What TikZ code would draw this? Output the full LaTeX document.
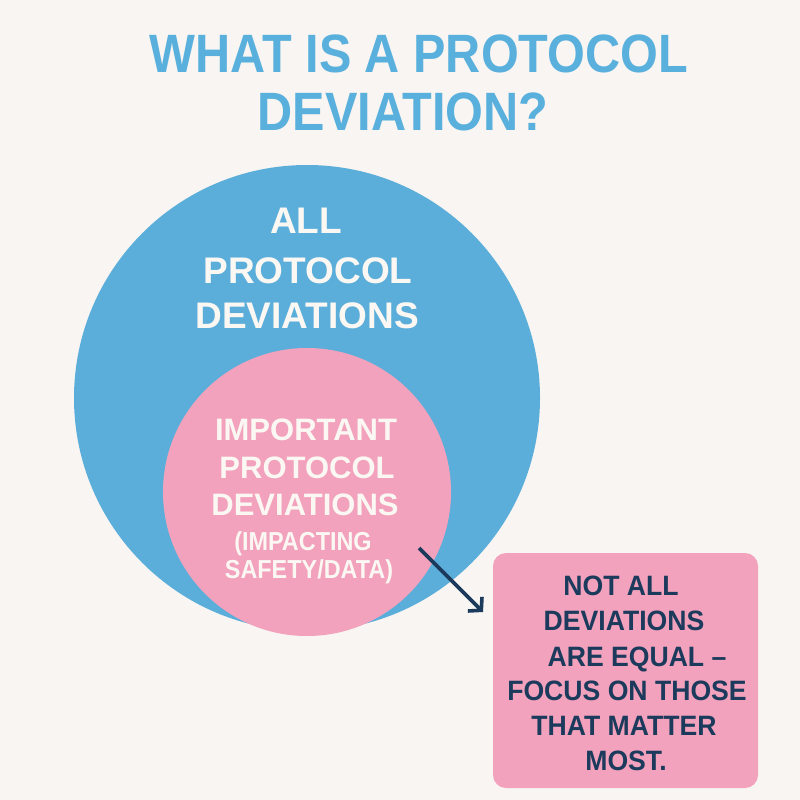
\documentclass[tikz,border=0pt]{standalone}
\usepackage{fontspec}
\setmainfont{Liberation Sans}
\newfontfamily\fnarrow{Liberation Sans}[FakeStretch=0.9]
\newfontfamily\fmid{Liberation Sans}[FakeStretch=0.95]
\newfontfamily\fnorm{Liberation Sans}
\usetikzlibrary{arrows.meta}
\definecolor{bgcol}{HTML}{F8F5F2}
\definecolor{bluecol}{HTML}{5CAEDA}
\definecolor{pinkcol}{HTML}{F2A2BC}
\definecolor{titlecol}{HTML}{5AB0DC}
\definecolor{navy}{HTML}{1B3A5C}
\definecolor{whitetxt}{HTML}{FBF8F4}
\tikzset{
  titletxt/.style={anchor=base, text=titlecol, inner sep=0pt, font=\fnarrow\bfseries\fontsize{54}{60}\selectfont},
  bigtxt/.style={anchor=base, text=whitetxt, inner sep=0pt, font=\fnorm\bfseries\fontsize{37}{42}\selectfont},
  midtxt/.style={anchor=base, text=whitetxt, inner sep=0pt, font=\fnorm\bfseries\fontsize{31}{36}\selectfont},
  smalltxt/.style={anchor=base, text=whitetxt, inner sep=0pt, font=\fnarrow\bfseries\fontsize{26}{30}\selectfont},
  boxtxt/.style={anchor=base, text=navy, inner sep=0pt, font=\fmid\bfseries\fontsize{28}{32}\selectfont},
  pointer/.style={draw=navy, line width=3.6pt, -{Straight Barb[length=9pt,width=20pt]}},
}
\begin{document}
\begin{tikzpicture}[x=1pt, y=-1pt]
\fill[bgcol] (0,0) rectangle (800,800);
\useasboundingbox (0,0) rectangle (800,800);
% title
\node[titletxt] (t1) at (419,72) {WHAT IS A PROTOCOL};
\node[titletxt] (t2) at (403,130) {DEVIATION?};
% circles
\node[circle, fill=bluecol, minimum size=466pt, inner sep=0pt] (big) at (307,398) {};
\node[circle, fill=pinkcol, minimum size=288pt, inner sep=0pt] (small) at (307,492) {};
% big circle text
\node[bigtxt] (a1) at (306,233) {ALL};
\node[bigtxt] (a2) at (308,283) {PROTOCOL};
\node[bigtxt] (a3) at (307,328) {DEVIATIONS};
% small circle text
\node[midtxt] (b1) at (306,440) {IMPORTANT};
\node[midtxt] (b2) at (307,478) {PROTOCOL};
\node[midtxt] (b3) at (305,515) {DEVIATIONS};
\node[smalltxt] (b4) at (303,550) {(IMPACTING};
\node[smalltxt] (b5) at (309,578) {SAFETY/DATA)};
% callout box
\node[rounded corners=13pt, fill=pinkcol, minimum width=265pt, minimum height=235pt, inner sep=0pt] (box) at (625.5,670.5) {};
\node[boxtxt] (c1) at (621,595) {NOT ALL};
\node[boxtxt] (c2) at (624,630) {DEVIATIONS};
\node[boxtxt] (c3) at (637,666) {ARE EQUAL –};
\node[boxtxt] (c4) at (627,700) {FOCUS ON THOSE};
\node[boxtxt] (c5) at (624,735) {THAT MATTER};
\node[boxtxt] (c6) at (626,770) {MOST.};
% arrow
\coordinate (ps) at (419,548);
\coordinate (pe) at (483,612);
\draw[pointer] (ps) -- (pe);
\end{tikzpicture}
\end{document}
